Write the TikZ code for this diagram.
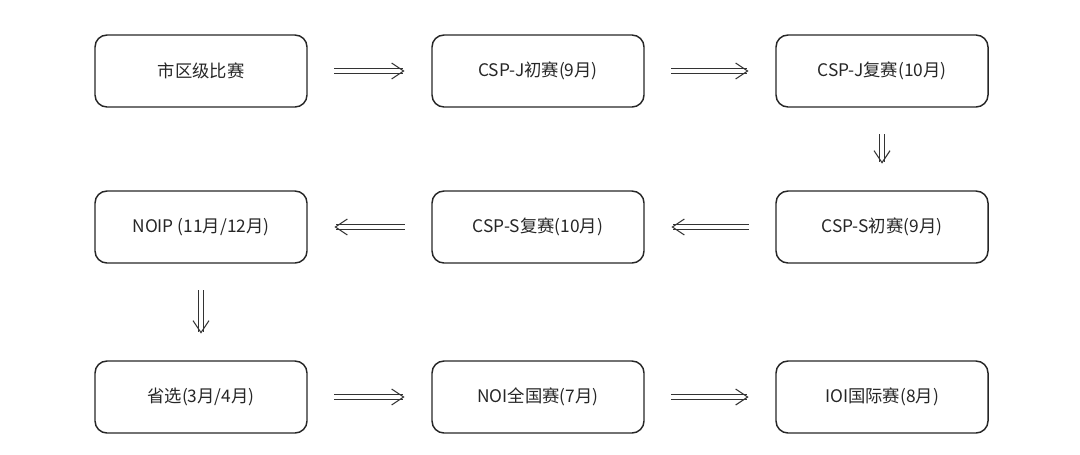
\documentclass[tikz,border=0pt]{standalone}
\usepackage{fontspec}
\setmainfont{Noto Sans CJK SC}
\usetikzlibrary{arrows.meta}
\begin{document}
\begin{tikzpicture}[x=0.75pt,y=-0.75pt,
  box/.style={draw=black!85,line width=1.1pt,rounded corners=9pt,minimum width=159pt,minimum height=54pt,font=\fontsize{13}{15}\selectfont,text=black!85},
  arr/.style={draw=black!80,line width=0.8pt,double,double distance=2.5pt,-{Straight Barb[length=9pt,width=12pt,line width=0.8pt]},shorten <=20pt,shorten >=20pt}]
\useasboundingbox (0,0) rectangle (1080,454);
\node[box] (a) at (201,71) {市区级比赛};
\node[box] (b) at (538,71) {CSP-J初赛(9月)};
\node[box] (c) at (882,71) {CSP-J复赛(10月)};
\node[box] (d) at (882,227) {CSP-S初赛(9月)};
\node[box] (e) at (538,227) {CSP-S复赛(10月)};
\node[box] (f) at (201,227) {\textit{NOIP} (11月/12月)};
\node[box] (g) at (201,397) {省选(3月/4月)};
\node[box] (h) at (538,397) {\textit{NOI}全国赛(7月)};
\node[box] (i) at (882,397) {IOI国际赛(8月)};
\draw[arr] (a) -- (b);
\draw[arr] (b) -- (c);
\draw[arr] (c) -- (d);
\draw[arr] (d) -- (e);
\draw[arr] (e) -- (f);
\draw[arr] (f) -- (g);
\draw[arr] (g) -- (h);
\draw[arr] (h) -- (i);
\end{tikzpicture}
\end{document}
